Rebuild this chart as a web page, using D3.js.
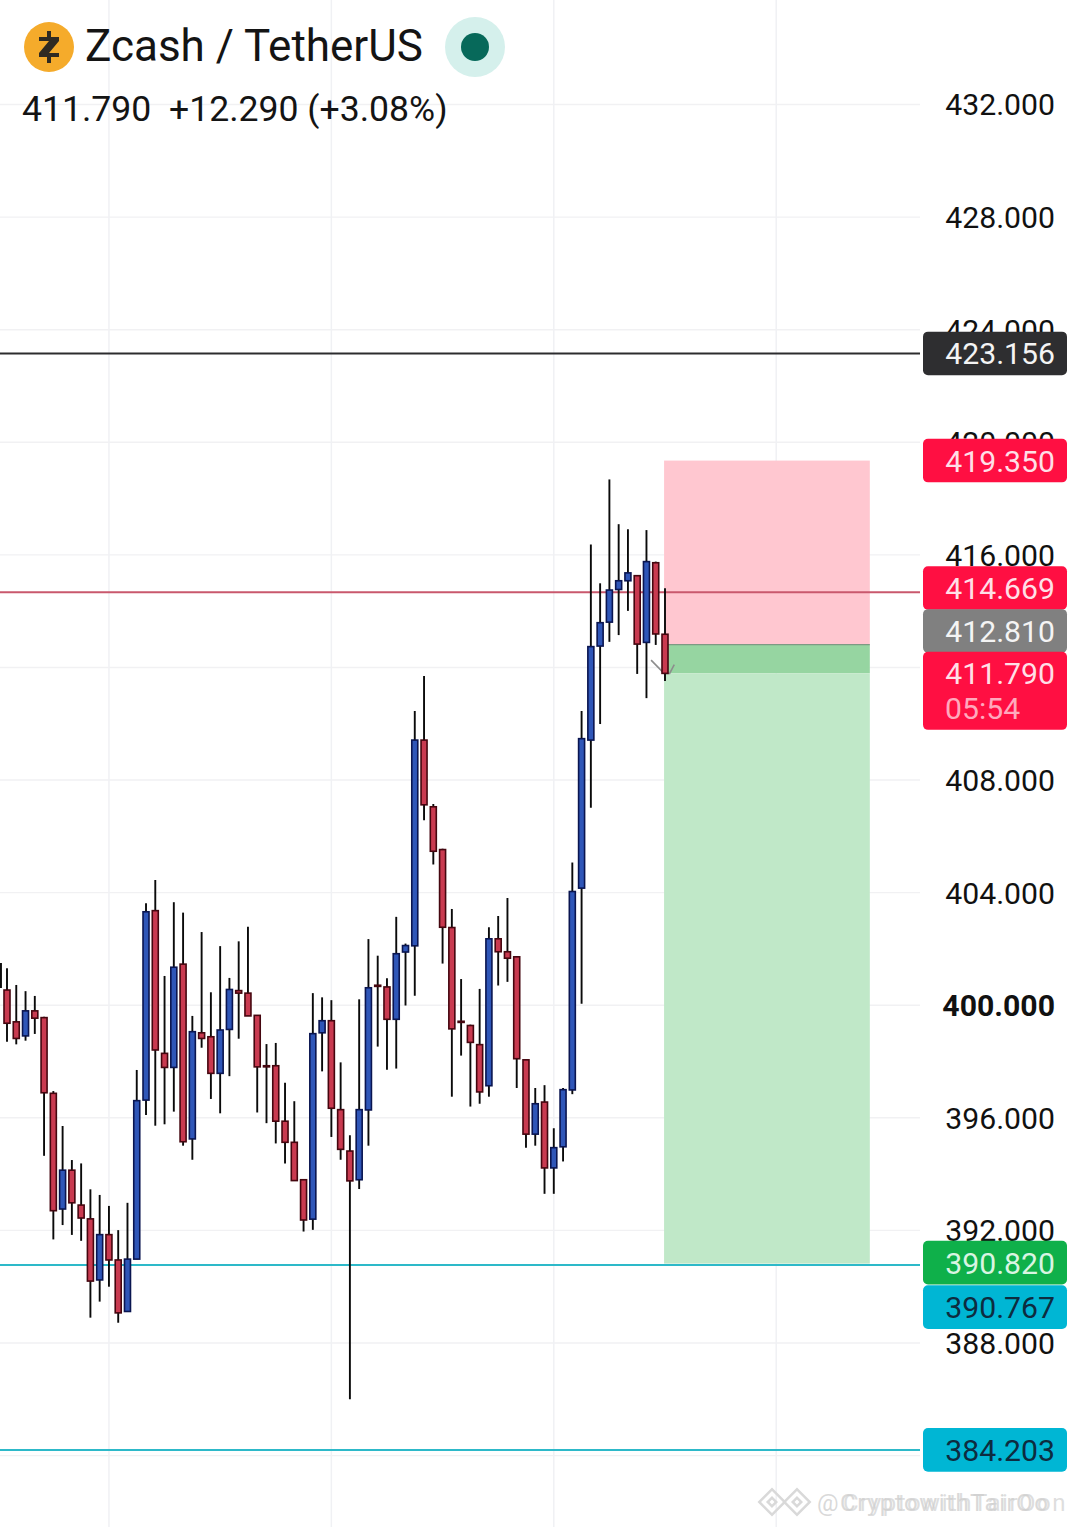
<!DOCTYPE html>
<html>
<head>
<meta charset="utf-8">
<title>Zcash / TetherUS</title>
<script src="https://cdn.jsdelivr.net/npm/d3@7"></script>
<style>
  html, body { margin: 0; background: #fff; }
  svg { display: block; font-family: Roboto, sans-serif; }
  .tag text { font-size: 30.2px; }
</style>
</head>
<body>
<div id="chart"></div>
<script>
const opens = [400.61,400.54,399.41,398.91,399.80,399.56,396.87,392.76,394.14,392.90,392.41,390.24,391.85,390.95,389.12,390.98,396.63,403.36,398.29,397.79,401.46,395.25,399.02,398.88,397.58,399.14,400.52,400.43,399.64,397.85,397.85,395.88,395.13,393.80,392.40,399.02,399.45,396.29,394.82,393.80,396.28,400.71,400.65,399.50,401.89,402.11,409.42,407.05,405.53,402.76,399.43,399.28,398.60,397.14,402.36,401.90,401.72,398.06,395.42,396.56,394.22,394.97,396.99,404.16,409.42,412.76,413.61,414.77,415.08,415.26,412.89,415.72,413.18];
const highs = [401.50,401.31,400.72,400.50,400.33,399.59,396.95,395.71,394.50,394.38,393.46,393.26,392.87,392.01,392.98,397.70,403.62,404.45,401.04,403.66,403.29,399.62,402.60,400.46,402.10,400.97,402.27,402.79,399.64,398.62,398.66,397.25,396.59,393.82,400.43,400.28,400.18,397.97,395.38,400.21,402.35,401.76,400.96,403.14,402.19,410.45,411.70,407.15,405.56,403.42,400.93,399.31,400.58,402.77,403.17,403.81,401.74,398.06,397.06,397.16,395.63,397.06,405.07,410.45,416.37,414.99,418.68,417.09,416.91,415.26,416.88,415.76,414.81];
const lows = [400.61,398.70,398.61,398.74,398.98,394.65,391.68,392.19,391.84,391.63,388.90,389.47,390.00,388.72,389.12,390.98,396.10,395.72,395.77,396.22,395.01,394.51,398.49,396.67,396.16,397.48,398.81,399.62,396.19,395.81,395.09,394.38,393.77,391.96,392.02,397.65,395.32,394.51,386.00,393.47,395.01,398.53,397.71,397.75,399.99,400.34,406.57,405.00,401.48,396.75,398.21,396.40,396.50,396.75,400.70,400.83,397.06,394.94,395.01,393.30,393.30,394.45,396.84,400.05,407.02,409.99,412.91,413.15,414.01,411.77,410.91,412.80,411.52];
const closes = [400.61,399.36,398.82,399.80,399.54,396.89,392.70,394.14,392.98,392.44,390.20,391.85,390.95,389.07,390.98,396.61,403.32,398.41,397.79,401.35,395.15,399.06,398.82,397.58,399.12,400.56,400.43,399.62,397.81,397.81,395.88,395.13,393.77,392.37,398.99,399.45,396.34,394.88,393.76,396.29,400.62,400.67,399.50,401.83,402.12,409.42,407.12,405.47,402.77,399.16,399.39,398.68,396.92,402.36,401.90,401.67,398.10,395.42,396.50,394.22,394.94,397.00,404.04,409.47,412.74,413.59,414.75,415.08,415.36,412.83,415.76,413.19,411.79];

const priceTicks = [432,428,424,420,416,412,408,404,400,396,392,388,384];
const timeTicks = [12,36,60,84];

// horizontal drawings on the chart
const levelPrices = [423.156,414.669,390.767,384.203];
const levelColors = ['#2c2c2e','#c9586d','#2db9c9','#2db9c9'];

// short position tool
const stopPrice = 419.35, entryPrice = 412.81, lastPrice = 411.79, targetPrice = 390.82;
const toolStart = 71.9, toolEnd = 94.1;

// right side tags
const tagPrices = [423.156,419.35,414.669,412.81,390.82,390.767,384.203];
const tagLabels = ['423.156','419.350','414.669','412.810','390.820','390.767','384.203'];
const tagFills = ['#2e2e30','#ff0f42','#ff0f42','#808080','#0fb04a','#00b6d4','#00b6d4'];
const tagText = ['#f4f4f4','#ffdfe6','#ffdfe6','#f4f4f4','#d9f5e2','#0d2c40','#0d2c40'];
// tags slide apart so they do not cover each other
const tagNudge = [0,0,-4.3,-13.7,-1,42,0];

const width = 1080, height = 1527, plotRight = 920;

const svg = d3.select('#chart').append('svg').attr('width', width).attr('height', height);

const x = d3.scaleLinear().domain([1, 72]).range([7, 665]);
const y = d3.scaleLinear().domain([432, 388]).range([104.5, 1343]);

const bars = opens.map((open, i) => ({
  i: i === 0 ? 0.35 : i, // first bar is cut by the left edge
  open, high: highs[i], low: lows[i], close: closes[i]
}));

// grid
svg.append('g').selectAll('line').data(priceTicks).join('line')
  .attr('x1', 0).attr('x2', plotRight)
  .attr('y1', d => y(d)).attr('y2', d => y(d))
  .attr('stroke', '#f1f1f3').attr('stroke-width', 1.4);
svg.append('g').selectAll('line').data(timeTicks).join('line')
  .attr('x1', d => x(d)).attr('x2', d => x(d))
  .attr('y1', 0).attr('y2', height)
  .attr('stroke', '#f0f1f4').attr('stroke-width', 1.5);

// position tool
const tool = svg.append('g');
const toolRect = (top, bottom, fill) => tool.append('rect')
  .attr('x', x(toolStart)).attr('width', x(toolEnd) - x(toolStart))
  .attr('y', y(top)).attr('height', y(bottom) - y(top))
  .attr('fill', fill);
toolRect(stopPrice, entryPrice, '#ffc7d0');
toolRect(entryPrice, lastPrice, '#96d5a1');
toolRect(lastPrice, targetPrice, '#c0e8c8');
tool.append('line')
  .attr('x1', x(toolStart)).attr('x2', x(toolEnd))
  .attr('y1', y(entryPrice)).attr('y2', y(entryPrice))
  .attr('stroke', '#7d9a84').attr('stroke-width', 1.2);

// levels
svg.append('g').selectAll('line').data(levelPrices).join('line')
  .attr('x1', 0).attr('x2', plotRight)
  .attr('y1', d => y(d)).attr('y2', d => y(d))
  .attr('stroke', (_, i) => levelColors[i])
  .attr('stroke-width', 2);

// little marker behind the last bar
const markerIdx = [70.5, 71.9, 72.5, 73];
const markerPrice = [412.26, 411.79, 411.79, 412.1];
svg.append('path')
  .attr('d', d3.line().x((_, i) => x(markerIdx[i])).y(d => y(d))(markerPrice))
  .attr('fill', 'none').attr('stroke', '#8d8d8d').attr('stroke-width', 1.6);

// candles
const candles = svg.append('g').selectAll('g').data(bars).join('g');
candles.append('line')
  .attr('x1', d => x(d.i)).attr('x2', d => x(d.i))
  .attr('y1', d => y(d.high)).attr('y2', d => y(d.low))
  .attr('stroke', '#0a0a0a').attr('stroke-width', 1.9);
candles.filter(d => d.open !== d.close).append('rect')
  .attr('x', d => x(d.i) - 3).attr('width', 6)
  .attr('y', d => y(Math.max(d.open, d.close)))
  .attr('height', d => Math.max(1, Math.abs(y(d.open) - y(d.close))))
  .attr('fill', d => d.close >= d.open ? '#2f56b8' : '#c93a50')
  .attr('stroke', d => d.close >= d.open ? '#0a1550' : '#45060f')
  .attr('stroke-width', 1.6);

// price axis
const axis = svg.append('g')
  .attr('transform', `translate(1055,0.8)`)
  .call(d3.axisLeft(y).tickValues(priceTicks).tickFormat(d3.format('.3f')).tickSize(0).tickPadding(0));
axis.select('.domain').remove();
axis.selectAll('text')
  .attr('font-family', 'Roboto, sans-serif')
  .attr('font-size', 30.2)
  .attr('fill', '#111')
  .attr('font-weight', d => d === 400 ? 700 : 400);

// tags
const tags = svg.append('g').attr('class', 'tag').selectAll('g').data(tagPrices).join('g')
  .attr('transform', (d, i) => `translate(923,${y(d) + tagNudge[i]})`);
tags.append('rect')
  .attr('y', -21.8).attr('width', 144).attr('height', 43.6).attr('rx', 5)
  .attr('fill', (_, i) => tagFills[i]);
tags.append('text')
  .attr('x', 132).attr('y', 11).attr('text-anchor', 'end')
  .attr('fill', (_, i) => tagText[i])
  .text((_, i) => tagLabels[i]);

const lastTag = svg.append('g').attr('class', 'tag')
  .attr('transform', `translate(923,${y(lastPrice)})`);
lastTag.append('rect')
  .attr('y', -21.5).attr('width', 144).attr('height', 78).attr('rx', 5)
  .attr('fill', '#ff0f42');
lastTag.append('text').attr('x', 132).attr('y', 11).attr('text-anchor', 'end')
  .attr('fill', '#ffdfe6').text(d3.format('.3f')(lastPrice));
lastTag.append('text').attr('x', 22).attr('y', 46)
  .attr('fill', '#ffa9bd').text('05:54');

// header
const coin = svg.append('g').attr('transform', 'translate(49,47)');
coin.append('circle').attr('r', 25).attr('fill', '#f5ab2b');
coin.append('path')
  .attr('d', 'M-2,-16h4v6h8v4l-10,12h10v4h-8v6h-4v-6h-8v-4l10,-12h-10v-4h8z')
  .attr('fill', '#2f2a22');
svg.append('text').attr('x', 85).attr('y', 61)
  .attr('font-size', 44).attr('fill', '#141414').text('Zcash / TetherUS');
svg.append('circle').attr('cx', 475).attr('cy', 47).attr('r', 30).attr('fill', '#d5f0ec');
svg.append('circle').attr('cx', 475).attr('cy', 47).attr('r', 14).attr('fill', '#07695a');
svg.append('text').attr('x', 22).attr('y', 121)
  .attr('font-size', 35.6).attr('fill', '#141414')
  .style('white-space', 'pre')
  .text('411.790  +12.290 (+3.08%)');

// watermark
const mark = svg.append('g').attr('fill', 'none').attr('stroke', '#d9d9d9').attr('stroke-width', 2.5);
[772, 797].forEach(cx => {
  mark.append('rect').attr('x', cx - 9).attr('y', 1493).attr('width', 18).attr('height', 18)
    .attr('transform', `rotate(45 ${cx} 1502)`);
  mark.append('rect').attr('x', cx - 3).attr('y', 1499).attr('width', 6).attr('height', 6)
    .attr('transform', `rotate(45 ${cx} 1502)`);
});
svg.append('text').attr('x', 817).attr('y', 1511).attr('font-size', 24)
  .attr('letter-spacing', 1.5).attr('fill', '#cfcfcf').attr('fill-opacity', 0.8).text('@CryptowithTairOo');
svg.append('text').attr('x', 843).attr('y', 1511).attr('font-size', 24)
  .attr('letter-spacing', 1.5).attr('fill', '#cfcfcf').attr('fill-opacity', 0.7).text('CryptowithTairOon');
</script>
</body>
</html>
